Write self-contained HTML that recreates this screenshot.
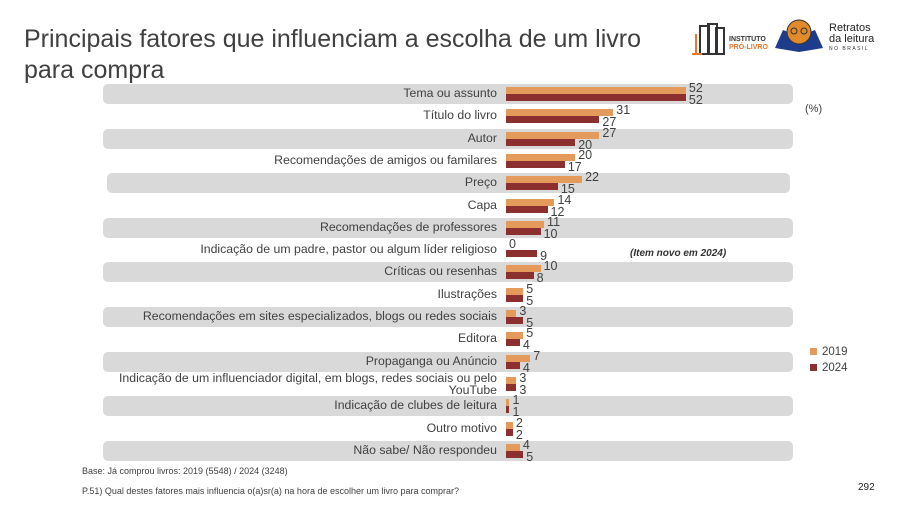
<!DOCTYPE html>
<html><head><meta charset="utf-8"><style>
body{margin:0;width:900px;height:517px;background:#fff;font-family:"Liberation Sans",sans-serif;position:relative;overflow:hidden;color:#404040}
.a{position:absolute;white-space:nowrap}
.band{position:absolute;background:#d9d9d9;border-radius:5px;height:20px}
.lab{position:absolute;right:403px;font-size:12.3px;text-align:right;line-height:12px;color:#404040}
.bo{position:absolute;left:506px;height:7px;background:#e39a5b}
.br{position:absolute;left:506px;height:7px;background:#8c2f2f}
.v{position:absolute;font-size:12.5px;color:#404040}
</style></head><body>
<div class="a" style="left:24px;top:24px;font-size:25px;line-height:31px;color:#404040">Principais fatores que influenciam a escolha de um livro<br>para compra</div>
<svg class="a" style="left:690px;top:20px" width="50" height="38"><rect x="10" y="6" width="9" height="28" fill="none" stroke="#333" stroke-width="2"/><rect x="18" y="4" width="9" height="30" fill="none" stroke="#333" stroke-width="2"/><rect x="26" y="8" width="8" height="26" fill="none" stroke="#333" stroke-width="2"/><line x1="6" y1="14" x2="6" y2="34" stroke="#e8762b" stroke-width="2"/><line x1="2" y1="34" x2="12" y2="34" stroke="#e8762b" stroke-width="2"/></svg>
<div class="a" style="left:729px;top:36px;font-size:7px;font-weight:bold;line-height:8px;color:#333">INSTITUTO<br><span style="color:#e8762b">PRÓ-LIVRO</span></div>
<svg class="a" style="left:773px;top:18px" width="52" height="36"><path d="M2 30 L10 12 L26 18 L42 12 L50 30 L26 34 Z" fill="#1f3c8c"/><circle cx="26" cy="14" r="12" fill="#e08a2c" stroke="#333" stroke-width="1"/><circle cx="21" cy="13" r="3" fill="none" stroke="#333"/><circle cx="31" cy="13" r="3" fill="none" stroke="#333"/></svg>
<div class="a" style="left:829px;top:23px;font-size:11px;line-height:11px;color:#222">Retratos<br>da leitura</div>
<div class="a" style="left:829px;top:46px;font-size:5px;letter-spacing:1.5px;color:#333">NO BRASIL</div>
<div class="a" style="left:805px;top:103px;font-size:11px">(%)</div>
<div class="a" style="left:630px;top:248px;font-size:10px;font-style:italic;font-weight:bold;color:#333">(Item novo em 2024)</div>
<div class="a" style="left:810px;top:346px;font-size:11.5px"><span style="display:inline-block;width:7px;height:7px;background:#e39a5b;margin-right:5px"></span>2019</div>
<div class="a" style="left:810px;top:362px;font-size:11.5px"><span style="display:inline-block;width:7px;height:7px;background:#8c2f2f;margin-right:5px"></span>2024</div>
<div class="a" style="left:82px;top:466px;font-size:9px">Base: Já comprou livros: 2019 (5548) / 2024 (3248)</div>
<div class="a" style="left:82px;top:486px;font-size:9px">P.51) Qual destes fatores mais influencia o(a)sr(a) na hora de escolher um livro para comprar?</div>
<div class="a" style="left:858px;top:482px;font-size:10px;color:#222">292</div>
<div id="c"></div>
<script>
var d=[["Tema ou assunto",52,52],["Título do livro",31,27],["Autor",27,20],["Recomendações de amigos ou familares ",20,17],["Preço",22,15],["Capa",14,12],["Recomendações de professores",11,10],["Indicação de um padre, pastor ou algum líder religioso",0,9],["Críticas ou resenhas",10,8],["Ilustrações",5,5],["Recomendações em sites especializados, blogs ou redes sociais ",3,5],["Editora",5,4],["Propaganga ou Anúncio",7,4],["Indicação de um influenciador digital, em blogs, redes sociais ou pelo<br>YouTube",3,3],["Indicação de clubes de leitura",1,1],["Outro motivo",2,2],["Não sabe/ Não respondeu",4,5]];
var h="",s=3.46;
d.forEach(function(r,i){var c=94+i*22.3;
if(i%2==0)h+='<div class="band" style="left:'+(i==4?107:103)+'px;width:'+(i==4?683:690)+'px;top:'+(c-10)+'px"></div>';
var two=r[0].indexOf("<br>")>0;
h+='<div class="lab" style="top:'+(two?c-12:c-7)+'px">'+r[0]+'</div>';
h+='<div class="bo" style="top:'+(c-7)+'px;width:'+(r[1]*s)+'px"></div>';
h+='<div class="br" style="top:'+c+'px;width:'+(r[2]*s)+'px"></div>';
h+='<div class="v" style="left:'+(509+r[1]*s)+'px;top:'+(c-13)+'px">'+r[1]+'</div>';
h+='<div class="v" style="left:'+(509+r[2]*s)+'px;top:'+(c-1)+'px">'+r[2]+'</div>';
});
document.getElementById("c").innerHTML=h;
</script>
</body></html>
